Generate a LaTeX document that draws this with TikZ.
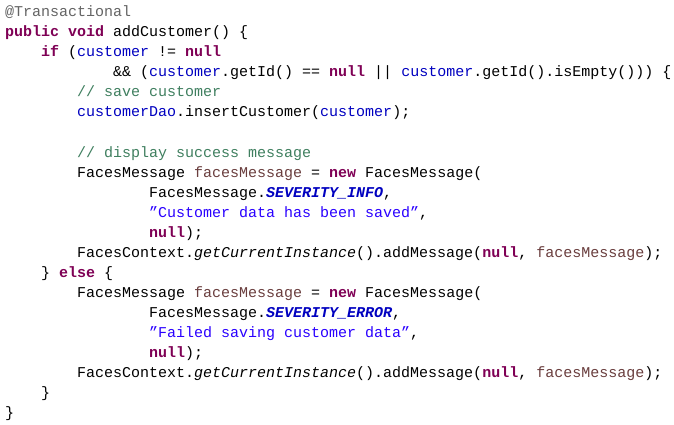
\documentclass[tikz,border=0pt]{standalone}
\usepackage{fontspec}
\setmainfont{Liberation Mono}
\definecolor{kwc}{HTML}{7F0055}
\definecolor{fldc}{HTML}{0000C0}
\definecolor{strc}{HTML}{2A00FF}
\definecolor{cmtc}{HTML}{3F7F5F}
\definecolor{lvc}{HTML}{6A3E3E}
\definecolor{anc}{HTML}{646464}
\newcommand\kw[1]{{\bfseries\color{kwc}#1}}
\newcommand\fld[1]{{\color{fldc}#1}}
\newcommand\cst[1]{{\bfseries\itshape\color{fldc}#1}}
\newcommand\str[1]{{\color{strc}\symbol{34}#1\symbol{34}}}
\newcommand\cmt[1]{{\color{cmtc}#1}}
\newcommand\lv[1]{{\color{lvc}#1}}
\newcommand\an[1]{{\color{anc}#1}}
\newcommand\codeline[3]{\node[code] (l#1) at ({5+9*#2},{17+20*(#1-1)}) {#3};}
\begin{document}
\begin{tikzpicture}[x=1pt,y=-1pt,
  code/.style={anchor=base west,inner sep=0pt,font=\fontsize{15}{18}\selectfont}]
\useasboundingbox[fill=white] (0,0) rectangle (674,425);
\codeline{1}{0}{\an{@Transactional}}
\codeline{2}{0}{\kw{public} \kw{void} addCustomer() \{}
\codeline{3}{4}{\kw{if} (\fld{customer} != \kw{null}}
\codeline{4}{12}{\&\& (\fld{customer}.getId() == \kw{null} || \fld{customer}.getId().isEmpty())) \{}
\codeline{5}{8}{\cmt{// save customer}}
\codeline{6}{8}{\fld{customerDao}.insertCustomer(\fld{customer});}
\codeline{8}{8}{\cmt{// display success message}}
\codeline{9}{8}{FacesMessage \lv{facesMessage} = \kw{new} FacesMessage(}
\codeline{10}{16}{FacesMessage.\cst{SEVERITY\_INFO},}
\codeline{11}{16}{\str{Customer data has been saved},}
\codeline{12}{16}{\kw{null});}
\codeline{13}{8}{FacesContext.\textit{getCurrentInstance}().addMessage(\kw{null}{,} \lv{facesMessage});}
\codeline{14}{4}{\} \kw{else} \{}
\codeline{15}{8}{FacesMessage \lv{facesMessage} = \kw{new} FacesMessage(}
\codeline{16}{16}{FacesMessage.\cst{SEVERITY\_ERROR},}
\codeline{17}{16}{\str{Failed saving customer data},}
\codeline{18}{16}{\kw{null});}
\codeline{19}{8}{FacesContext.\textit{getCurrentInstance}().addMessage(\kw{null}{,} \lv{facesMessage});}
\codeline{20}{4}{\}}
\codeline{21}{0}{\}}
\end{tikzpicture}
\end{document}
